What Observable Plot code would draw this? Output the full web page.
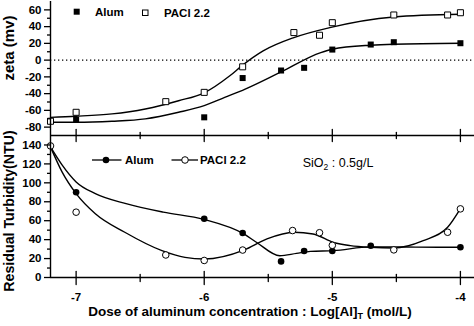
<!DOCTYPE html>
<html>
<head>
<meta charset="utf-8">
<script src="https://cdn.jsdelivr.net/npm/d3@7"></script>
<script src="https://cdn.jsdelivr.net/npm/@observablehq/plot@0.6"></script>
<style>
  body { margin: 0; background: #fff; }
  #chart { position: relative; width: 474px; height: 326px; font-family: "Liberation Sans", Arial, sans-serif; }
</style>
</head>
<body>
<div id="chart"></div>
<script>
// ---------- axes ----------
const xDomain = [-7.2, -3.89];
const xMajor = [-7, -6, -5, -4];
const xMinor = [-6.5, -5.5, -4.5];
const zetaDomain = [-90, 70];
const zetaTicks = [-80, -60, -40, -20, 0, 20, 40, 60];
const zetaMinor = [-70, -50, -30, -10, 10, 30, 50];
const turbDomain = [0, 150];
const turbTicks = [0, 20, 40, 60, 80, 100, 120, 140];
const turbMinor = [10, 30, 50, 70, 90, 110, 130];

// ---------- zeta potential (top panel) ----------
const zetaAlumDose = [-7, -6, -5.7, -5.4, -5.22, -5, -4.7, -4.52, -4];
const zetaAlum     = [-71.4, -68.3, -21.4, -12.4, -9.2, 12.6, 18.6, 21.4, 20.2];
const zetaPaclDose = [-7.2, -7, -6.3, -6, -5.7, -5.3, -5.1, -5, -4.52, -4.1, -4];
const zetaPacl     = [-73, -62.3, -49.6, -38.5, -8, 32.9, 29.7, 44.7, 53.9, 53.9, 56.6];
// fitted curves
const zetaAlumFitDose = [-7.2, -7.0, -6.72, -6.46, -6.2, -6.0, -5.84, -5.68, -5.4, -5.09, -5.0, -4.7, -4.52, -4.0];
const zetaAlumFit     = [-74.2, -74.2, -73, -70.2, -62.3, -54.4, -44.5, -34.5, -14, 9, 13, 17.8, 19, 20.2];
const zetaPaclFitDose = [-7.2, -7.0, -6.72, -6.46, -6.2, -6.0, -5.8, -5.7, -5.54, -5.3, -5.02, -4.52, -4.0];
const zetaPaclFit     = [-68.3, -67, -64.2, -58.3, -48.5, -39, -18.7, -6, 11, 26.9, 38.8, 51.5, 54.7];

// ---------- residual turbidity (bottom panel) ----------
const turbAlumDose = [-7, -6, -5.7, -5.4, -5.22, -5, -4.7, -4];
const turbAlum     = [90, 62, 47, 17, 28, 28, 33.5, 32];
const turbPaclDose = [-7.2, -7, -6.3, -6, -5.7, -5.31, -5.1, -5, -4.52, -4.1, -4];
const turbPacl     = [139, 69, 23.8, 18, 29, 49.6, 47.3, 34, 29.2, 47.8, 72.5];
const turbAlumFitDose = [-7.2, -7.11, -7.0, -6.85, -6.61, -6.32, -6.0, -5.69, -5.59, -5.41, -5.28, -5.17, -4.99, -4.70, -4.35, -4.0];
const turbAlumFit     = [138, 119, 101, 88.6, 78, 69, 61.3, 46, 37, 23, 25.5, 27.6, 28.4, 32.3, 32.1, 31.9];
const turbPaclFitDose = [-7.2, -7.11, -7.0, -6.85, -6.62, -6.33, -6.15, -6.0, -5.69, -5.51, -5.30, -5.15, -4.99, -4.86, -4.70, -4.52, -4.29, -4.10, -4.0];
const turbPaclFit     = [138, 111.6, 88.6, 67.4, 47.8, 28.4, 21.3, 19.6, 29, 40.8, 47.8, 46, 37, 33.7, 31.9, 31.2, 39, 53, 72.7];

const pts = (xs, ys) => xs.map((x, i) => ({x, y: ys[i]}));
const FONT = '"Liberation Sans", Arial, sans-serif';
const W = 474;
const str = d => String(d);
const tickUp = {draw(context, l) { context.moveTo(0, 0); context.lineTo(0, -l); }};
const tickDown = {draw(context, l) { context.moveTo(0, 0); context.lineTo(0, l); }};
// short tick marks along the bottom frame edge
const edgeTicks = (values, len, up) => Plot.vector(values, {
  x: d => d, frameAnchor: "bottom", length: len,
  anchor: "start", shape: up ? tickUp : tickDown, strokeWidth: 1.3
});

// ---------- top plot ----------
const topPlot = Plot.plot({
  width: W, height: 136, marginLeft: 50, marginRight: 0, marginTop: 1, marginBottom: 1,
  style: {fontFamily: FONT, background: "transparent", overflow: "visible"},
  x: {domain: xDomain, axis: null},
  y: {domain: zetaDomain, label: null},
  marks: [
    Plot.ruleY([0], {strokeDasharray: "1.3,2.7", strokeWidth: 1.3}),
    Plot.line(pts(zetaAlumFitDose, zetaAlumFit), {x: "x", y: "y", curve: "monotone-x", strokeWidth: 1.4}),
    Plot.line(pts(zetaPaclFitDose, zetaPaclFit), {x: "x", y: "y", curve: "monotone-x", strokeWidth: 1.4}),
    Plot.dot(pts(zetaAlumDose, zetaAlum), {x: "x", y: "y", symbol: "square", r: 3.4, fill: "black"}),
    Plot.dot(pts(zetaPaclDose, zetaPacl), {x: "x", y: "y", symbol: "square", r: 3.4, fill: "white", stroke: "black", strokeWidth: 1}),
    Plot.ruleY([zetaDomain[0]], {strokeWidth: 1.4}),
    Plot.ruleX([xDomain[0]], {strokeWidth: 1.4}),
    // ticks on the shared edge: up into top panel, down into bottom panel
    edgeTicks(xMajor, 6, true),
    edgeTicks(xMinor, 3, true),
    edgeTicks(xMajor, 6, false),
    edgeTicks(xMinor, 3, false),
    Plot.axisY({ticks: zetaTicks, tickSize: 6, tickPadding: 3, tickFormat: str, fontSize: 11.5, fontWeight: "bold", strokeWidth: 1.3, label: null}),
    Plot.axisY({ticks: zetaMinor, tickSize: 3, tickFormat: () => "", strokeWidth: 1.3, label: null})
  ]
});

// ---------- bottom plot ----------
const botTop = 135;
const botPlot = Plot.plot({
  width: W, height: 191, marginLeft: 50, marginRight: 0, marginTop: 0, marginBottom: 49,
  style: {fontFamily: FONT, background: "transparent", overflow: "visible"},
  x: {domain: xDomain, axis: null},
  y: {domain: turbDomain, label: null},
  marks: [
    Plot.line(pts(turbAlumFitDose, turbAlumFit), {x: "x", y: "y", curve: "monotone-x", strokeWidth: 1.4}),
    Plot.line(pts(turbPaclFitDose, turbPaclFit), {x: "x", y: "y", curve: "monotone-x", strokeWidth: 1.4}),
    Plot.dot(pts(turbAlumDose, turbAlum), {x: "x", y: "y", r: 3.3, fill: "black"}),
    Plot.dot(pts(turbPaclDose, turbPacl), {x: "x", y: "y", r: 3.3, fill: "white", stroke: "black", strokeWidth: 1}),
    Plot.ruleY([turbDomain[0]], {strokeWidth: 1.4}),
    Plot.ruleX([xDomain[0]], {strokeWidth: 1.4}),
    edgeTicks(xMajor, 6, true),
    edgeTicks(xMinor, 3, true),
    edgeTicks(xMajor, 7, false),
    edgeTicks(xMinor, 4, false),
    Plot.text(xMajor, {x: d => d, frameAnchor: "bottom", dy: 15, lineAnchor: "top", text: str, fontSize: 11.5, fontWeight: "bold"}),
    Plot.axisY({ticks: turbTicks, tickSize: 6, tickPadding: 3, tickFormat: str, fontSize: 11.5, fontWeight: "bold", strokeWidth: 1.3, label: null}),
    Plot.axisY({ticks: turbMinor, tickSize: 3, tickFormat: () => "", strokeWidth: 1.3, label: null})
  ]
});

const chart = document.getElementById("chart");
topPlot.style.position = "absolute"; topPlot.style.top = "0px"; topPlot.style.left = "0px";
botPlot.style.position = "absolute"; botPlot.style.top = botTop + "px"; botPlot.style.left = "0px";
chart.appendChild(topPlot);
chart.appendChild(botPlot);

// ---------- titles, legends, annotation ----------
const ov = d3.select(chart).append("svg")
  .attr("width", W).attr("height", 326)
  .style("position", "absolute").style("top", "0px").style("left", "0px")
  .style("font-family", FONT);

ov.append("text").attr("transform", "translate(14,48) rotate(-90)")
  .attr("text-anchor", "middle").attr("font-size", 15).attr("font-weight", "bold").text("zeta (mv)");
ov.append("text").attr("transform", "translate(13.5,211) rotate(-90)")
  .attr("text-anchor", "middle").attr("font-size", 14.2).attr("font-weight", "bold").text("Residual Turbidity(NTU)");

const xt = ov.append("text").attr("x", 250).attr("y", 316).attr("text-anchor", "middle")
  .attr("font-size", 13.5).attr("font-weight", "bold");
xt.append("tspan").text("Dose of aluminum concentration : Log[Al]");
xt.append("tspan").attr("font-size", 9).attr("dy", 3).text("T");
xt.append("tspan").attr("dy", -3).text(" (mol/L)");

// top legend
ov.append("rect").attr("x", 73.7).attr("y", 8.7).attr("width", 6).attr("height", 6).attr("fill", "black");
ov.append("text").attr("x", 95).attr("y", 16).attr("font-size", 11.5).attr("font-weight", "bold").text("Alum");
ov.append("rect").attr("x", 142.5).attr("y", 10).attr("width", 5.5).attr("height", 5.5).attr("fill", "white").attr("stroke", "black").attr("stroke-width", 1);
ov.append("text").attr("x", 164).attr("y", 16.5).attr("font-size", 11.5).attr("font-weight", "bold").text("PACl 2.2");

// bottom legend
ov.append("line").attr("x1", 92).attr("x2", 121.5).attr("y1", 160).attr("y2", 160).attr("stroke", "black").attr("stroke-width", 1.3);
ov.append("circle").attr("cx", 106).attr("cy", 160).attr("r", 3.3).attr("fill", "black");
ov.append("text").attr("x", 125).attr("y", 164).attr("font-size", 11.5).attr("font-weight", "bold").text("Alum");
ov.append("line").attr("x1", 171.5).attr("x2", 198).attr("y1", 160).attr("y2", 160).attr("stroke", "black").attr("stroke-width", 1.3);
ov.append("circle").attr("cx", 185).attr("cy", 160).attr("r", 3.3).attr("fill", "white").attr("stroke", "black").attr("stroke-width", 1);
ov.append("text").attr("x", 200).attr("y", 164).attr("font-size", 11.5).attr("font-weight", "bold").text("PACl 2.2");

// annotation
const si = ov.append("text").attr("x", 302.7).attr("y", 167.3).attr("font-size", 12.5);
si.append("tspan").text("SiO");
si.append("tspan").attr("font-size", 8.5).attr("dy", 3).text("2");
si.append("tspan").attr("dy", -3).text(" : 0.5g/L");
</script>
</body>
</html>
